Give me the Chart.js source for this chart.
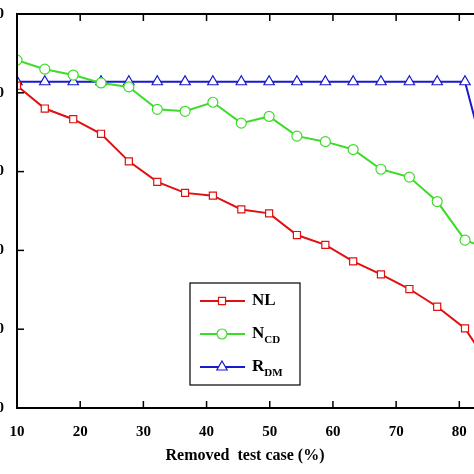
<!DOCTYPE html>
<html><head><meta charset="utf-8">
<script src="https://cdn.jsdelivr.net/npm/chart.js@4"></script>
<style>
body{margin:0;background:#fff;overflow:hidden}
#wrap{position:relative;width:474px;height:474px;overflow:hidden}
#c{position:absolute;left:-43px;top:0}
</style></head><body>
<div id="wrap"><canvas id="c" width="580" height="474"></canvas></div>
<script>
// dữ liệu
const xs = [10, 14.4, 18.9, 23.3, 27.7, 32.2, 36.6, 41, 45.5, 49.9, 54.3, 58.8, 63.2, 67.6, 72.1, 76.5, 80.9, 85.3];
const nl = [81.8, 76, 73.3, 69.6, 62.6, 57.4, 54.6, 53.9, 50.4, 49.4, 43.9, 41.4, 37.2, 33.9, 30.2, 25.7, 20.2, 9.5];
const ncd = [88.3, 86, 84.5, 82.5, 81.5, 75.8, 75.3, 77.6, 72.3, 74, 69, 67.6, 65.6, 60.6, 58.6, 52.4, 42.6, 40];
const rdm = [82.8, 82.8, 82.8, 82.8, 82.8, 82.8, 82.8, 82.8, 82.8, 82.8, 82.8, 82.8, 82.8, 82.8, 82.8, 82.8, 82.8, 56];
const xTicks = [10, 20, 30, 40, 50, 60, 70, 80, 90];
const yTicks = [0, 20, 40, 60, 80, 100];

const RED = '#e01010', GREEN = '#3ddc2a', BLUE = '#1a1acc';

function pts(ys) { return xs.map((x, i) => ({x: x, y: ys[i]})); }
function ds(label, ys, color, style, r) {
    return {label: label, data: pts(ys), borderColor: color, backgroundColor: '#fff',
        pointStyle: style, pointRadius: r, pointBorderWidth: 1.2, borderWidth: 2, tension: 0};
}

// vẽ khung, vạch chia hướng vào trong, tiêu đề trục và chú thích
const deco = {
    id: 'deco',
    afterDraw(chart) {
        const ctx = chart.ctx, a = chart.chartArea, sx = chart.scales.x, sy = chart.scales.y;
        ctx.save();
        ctx.strokeStyle = '#000'; ctx.lineWidth = 2;
        ctx.strokeRect(a.left, a.top, a.right - a.left, a.bottom - a.top);
        ctx.lineWidth = 1.5;
        xTicks.forEach(v => {
            const p = sx.getPixelForValue(v);
            ctx.beginPath(); ctx.moveTo(p, a.bottom); ctx.lineTo(p, a.bottom - 7);
            ctx.moveTo(p, a.top); ctx.lineTo(p, a.top + 7); ctx.stroke();
        });
        yTicks.forEach(v => {
            const p = sy.getPixelForValue(v);
            ctx.beginPath(); ctx.moveTo(a.left, p); ctx.lineTo(a.left + 7, p); ctx.stroke();
        });
        ctx.fillStyle = '#000';
        ctx.font = 'bold 16px "Liberation Serif", serif';
        ctx.textAlign = 'center'; ctx.textBaseline = 'middle';
        ctx.fillText('Removed  test case (%)', 245 + 43, 456);

        // chú thích
        const L = 190 + 43, T = 283;
        ctx.lineWidth = 1.2;
        ctx.strokeRect(L, T, 110, 102);
        const rows = [
            {c: RED, s: 'rect', t: 'NL', sub: ''},
            {c: GREEN, s: 'circle', t: 'N', sub: 'CD'},
            {c: BLUE, s: 'triangle', t: 'R', sub: 'DM'}
        ];
        rows.forEach((r, i) => {
            const y = T + 18 + i * 33;
            ctx.strokeStyle = r.c; ctx.lineWidth = 2;
            ctx.beginPath(); ctx.moveTo(L + 10, y); ctx.lineTo(L + 55, y); ctx.stroke();
            ctx.fillStyle = '#fff'; ctx.lineWidth = 1.2;
            Chart.helpers.drawPoint(ctx, {pointStyle: r.s, radius: r.s === 'triangle' ? 6 : 5, borderWidth: 1.2}, L + 32, y);
            ctx.fillStyle = '#000'; ctx.textAlign = 'left';
            ctx.font = 'bold 17px "Liberation Serif", serif';
            ctx.fillText(r.t, L + 62, y);
            if (r.sub) {
                const w = ctx.measureText(r.t).width;
                ctx.font = 'bold 11px "Liberation Serif", serif';
                ctx.fillText(r.sub, L + 62 + w, y + 6);
            }
        });
        ctx.restore();
    }
};

new Chart(document.getElementById('c'), {
    type: 'line',
    data: {datasets: [
        ds('NL', nl, RED, 'rect', 5),
        ds('NCD', ncd, GREEN, 'circle', 5),
        ds('RDM', rdm, BLUE, 'triangle', 6)
    ]},
    options: {
        responsive: false, animation: false,
        layout: {padding: 0},
        plugins: {legend: {display: false}, tooltip: {enabled: false}},
        scales: {
            x: {type: 'linear', min: 10, max: 90,
                afterFit: s => { s.height = 66; },
                afterBuildTicks: s => { s.ticks = xTicks.map(v => ({value: v})); },
                grid: {display: false}, border: {display: false},
                ticks: {color: '#000', font: {family: '"Liberation Serif", serif', size: 15, weight: 'bold'}, padding: 7, maxRotation: 0}},
            y: {min: 0, max: 100,
                afterFit: s => { s.width = 60; },
                afterBuildTicks: s => { s.ticks = yTicks.map(v => ({value: v})); },
                grid: {display: false}, border: {display: false},
                ticks: {color: '#000', font: {family: '"Liberation Serif", serif', size: 15, weight: 'bold'}, padding: 5}}
        }
    },
    plugins: [deco]
});
</script>
</body></html>
